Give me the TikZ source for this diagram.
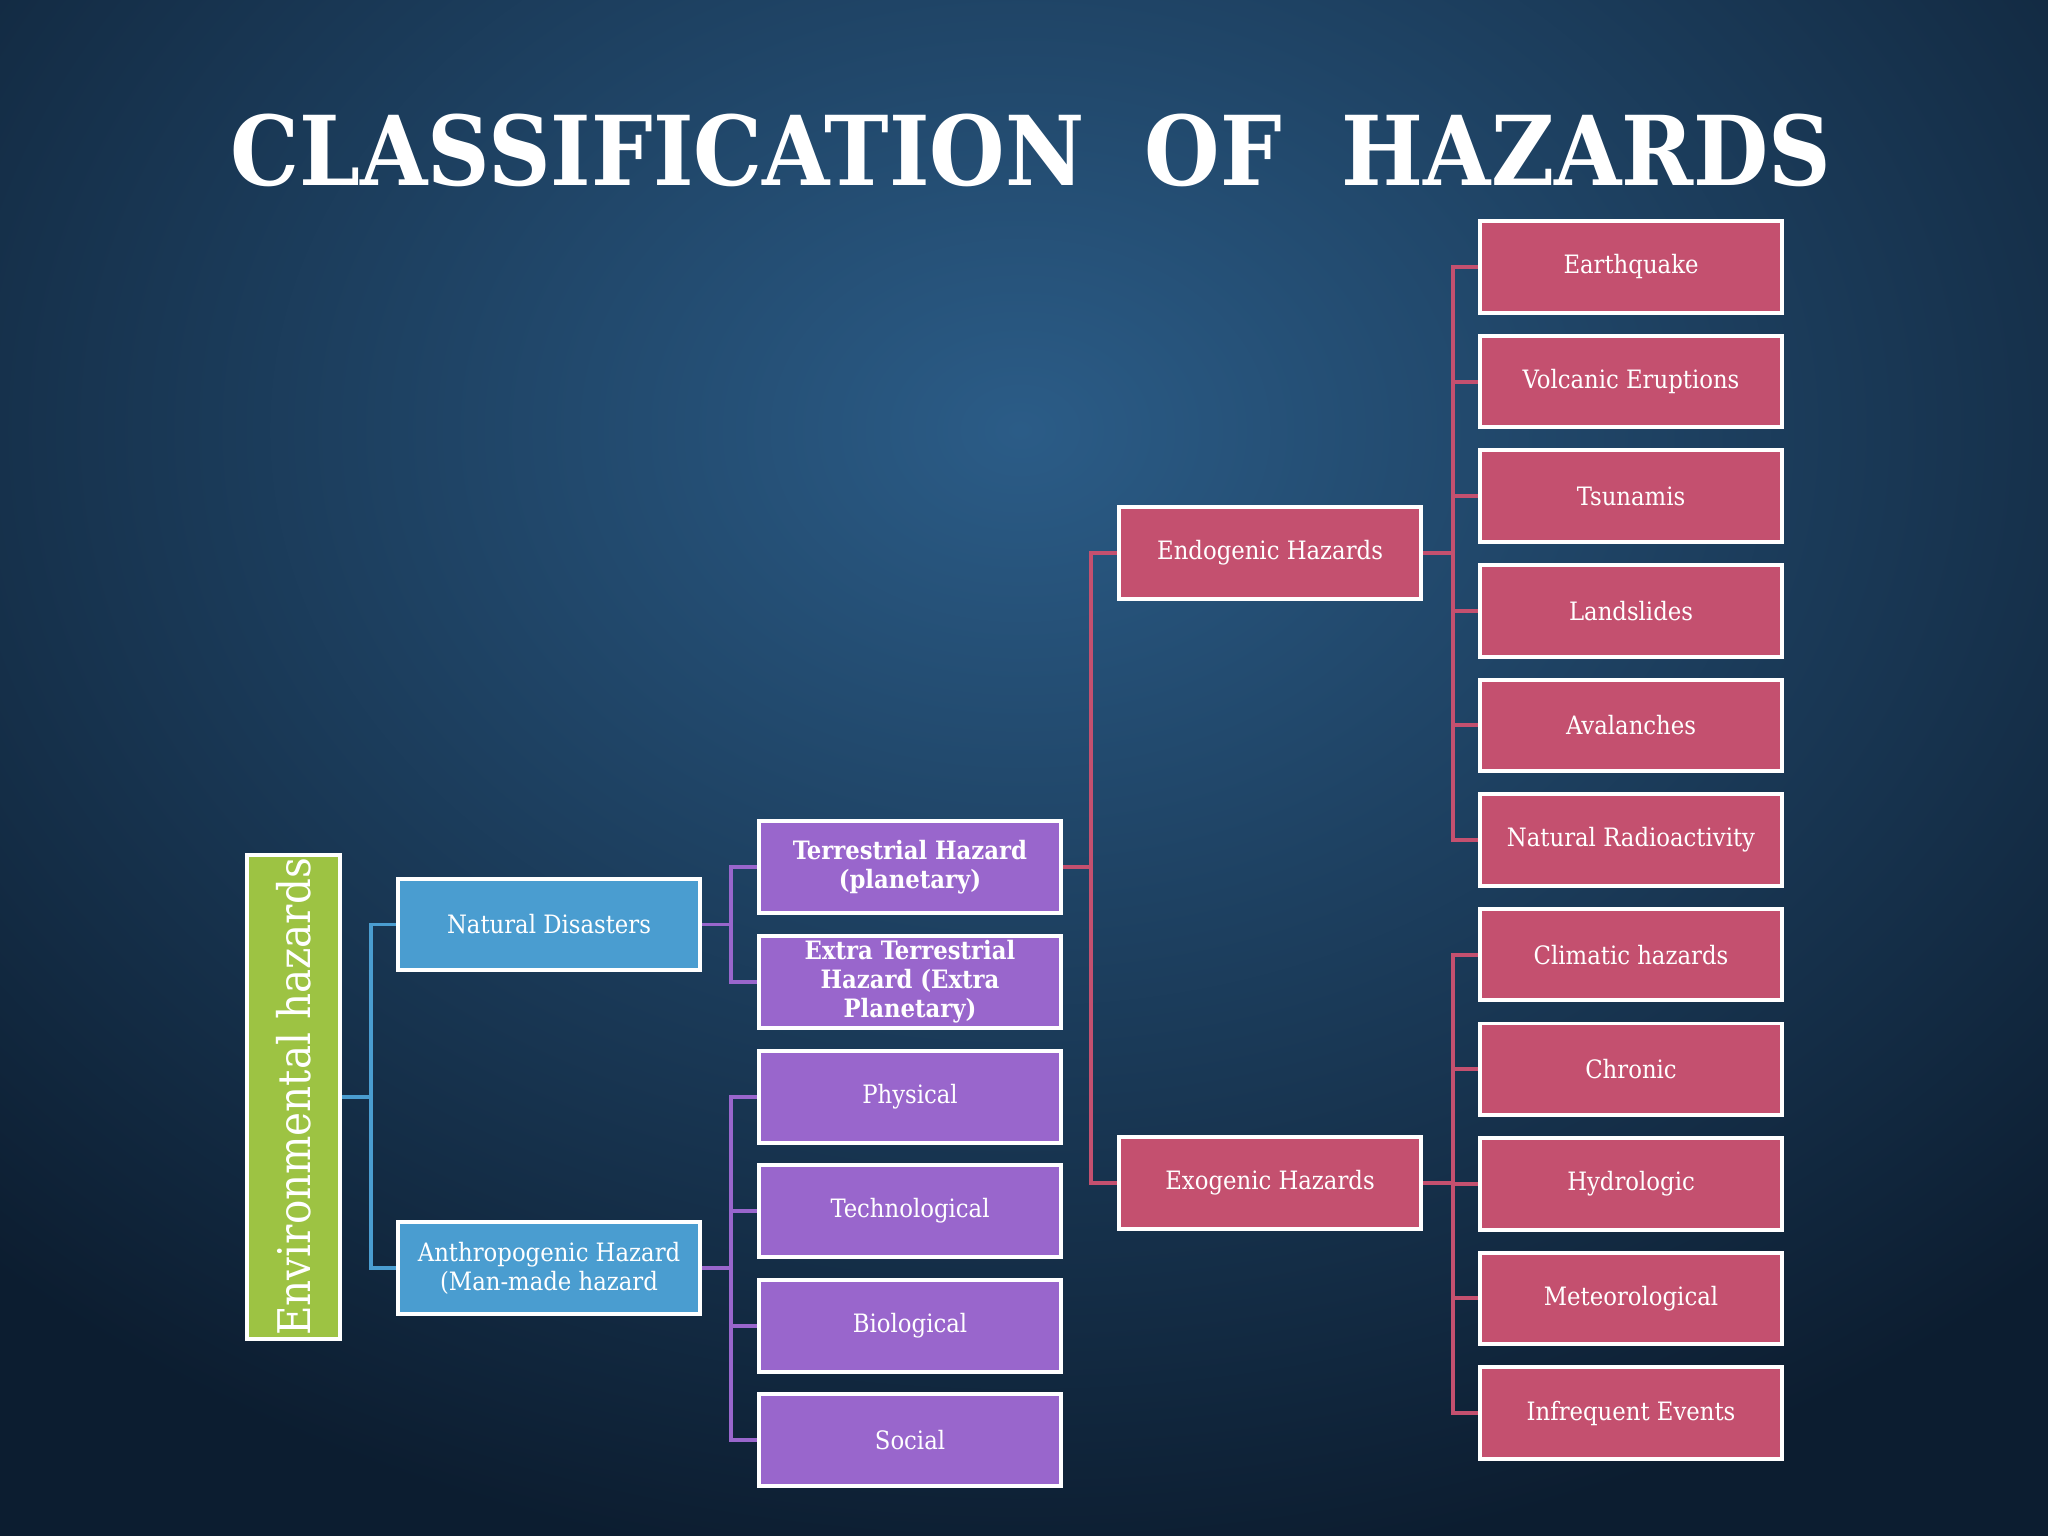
\documentclass[tikz,border=0pt]{standalone}
\usepackage{graphicx}
\usepackage{fontspec}
\setmainfont{DejaVu Serif Condensed}
\usetikzlibrary{backgrounds}
\definecolor{bgdark}{HTML}{0C1D30}
\definecolor{bglight}{HTML}{2B5C87}
\definecolor{envgreen}{HTML}{9DC343}
\definecolor{natblue}{HTML}{4A9DD0}
\definecolor{subpurple}{HTML}{9966CC}
\definecolor{hazred}{HTML}{C4506F}

\begin{document}
\begin{tikzpicture}[x=0.01cm,y=-0.01cm,
	box/.style={draw=white,line width=1.1pt,text=white,minimum width=3.02cm,minimum height=0.915cm,inner sep=1pt,align=center,font=\fontsize{7.2}{8.2}\selectfont},
	bluebox/.style={box,fill=natblue},
	purplebox/.style={box,fill=subpurple},
	redbox/.style={box,fill=hazred},
	bline/.style={natblue,line width=1.1pt},
	pline/.style={subpurple,line width=1.1pt},
	rline/.style={hazred,line width=1.1pt}]
	\useasboundingbox (0,0) rectangle (2048,1536);
	% background
	\begin{scope}[on background layer]
		\fill[bgdark] (0,0) rectangle (2048,1536);
		\shade[inner color=bglight,outer color=bgdark] (1020,430) ellipse [x radius=1500,y radius=1150];
	\end{scope}
	\node[text=white,font=\fontsize{27.4}{30}\selectfont\bfseries] (title) at (1031,150) {CLASSIFICATION\ \ OF\ \ HAZARDS};
	% root
	\node[draw=white,line width=1.1pt,fill=envgreen,text=white,minimum width=0.93cm,minimum height=4.84cm,inner sep=0pt,font=\fontsize{12.8}{13}\selectfont] (env) at (293.5,1097) {\rotatebox{90}{Environmental hazards}};
	% second level
	\node[bluebox] (natdis) at (549,924.5) {Natural Disasters};
	\node[bluebox] (anthro) at (549,1268) {Anthropogenic Hazard\\(Man-made hazard};
	% third level
	\node[purplebox,font=\fontsize{7.2}{8.2}\selectfont\bfseries] (terr) at (910,867) {Terrestrial Hazard\\(planetary)};
	\node[purplebox,font=\fontsize{7.2}{8.2}\selectfont\bfseries] (extra) at (910,982) {Extra Terrestrial\\Hazard (Extra\\Planetary)};
	\node[purplebox] (phys) at (910,1097) {Physical};
	\node[purplebox] (tech) at (910,1211) {Technological};
	\node[purplebox] (bio) at (910,1326) {Biological};
	\node[purplebox] (soc) at (910,1440) {Social};
	% fourth level
	\node[redbox] (endo) at (1270,553) {Endogenic Hazards};
	\node[redbox] (exo) at (1270,1183) {Exogenic Hazards};
	% leaves
	\node[redbox] (quake) at (1631,267) {Earthquake};
	\node[redbox] (volc) at (1631,381.6) {Volcanic Eruptions};
	\node[redbox] (tsu) at (1631,496.2) {Tsunamis};
	\node[redbox] (land) at (1631,610.8) {Landslides};
	\node[redbox] (aval) at (1631,725.4) {Avalanches};
	\node[redbox] (radio) at (1631,840) {Natural Radioactivity};
	\node[redbox] (clim) at (1631,954.6) {Climatic hazards};
	\node[redbox] (chron) at (1631,1069.2) {Chronic};
	\node[redbox] (hydro) at (1631,1183.8) {Hydrologic};
	\node[redbox] (meteo) at (1631,1298.4) {Meteorological};
	\node[redbox] (infreq) at (1631,1413) {Infrequent Events};
	% connectors
	\begin{scope}[on background layer]
		\draw[bline] (env.east) -- ++(29,0) |- (natdis.west);
		\draw[bline] (env.east) -- ++(29,0) |- (anthro.west);
		\foreach \n in {terr,extra}
			\draw[pline] (natdis.east) -- ++(29,0) |- (\n.west);
		\foreach \n in {phys,tech,bio,soc}
			\draw[pline] (anthro.east) -- ++(29,0) |- (\n.west);
		\draw[rline] (terr.east) -- ++(28,0) |- (endo.west);
		\draw[rline] (terr.east) -- ++(28,0) |- (exo.west);
		\foreach \n in {quake,volc,tsu,land,aval,radio}
			\draw[rline] (endo.east) -- ++(30,0) |- (\n.west);
		\foreach \n in {clim,chron,hydro,meteo,infreq}
			\draw[rline] (exo.east) -- ++(30,0) |- (\n.west);
	\end{scope}
\end{tikzpicture}
\end{document}
